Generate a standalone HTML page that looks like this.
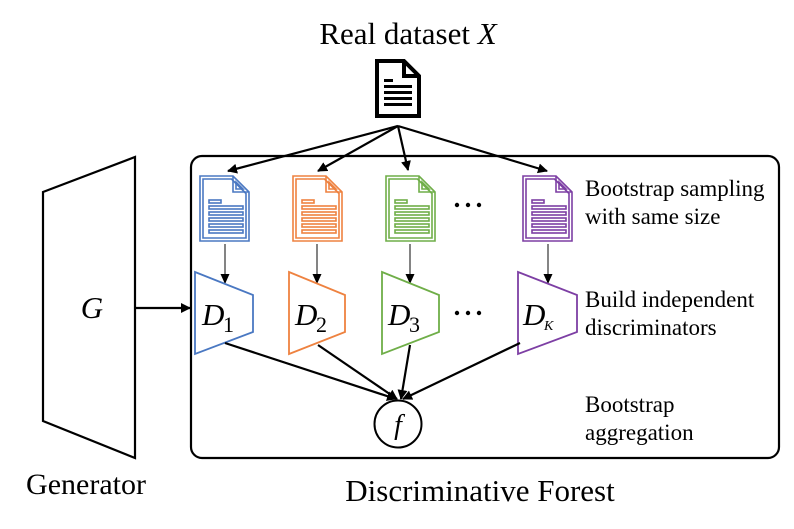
<!DOCTYPE html>
<html><head><meta charset="utf-8"><style>
html,body{margin:0;padding:0;background:#fff;}
svg{display:block;}
text{font-family:"Liberation Serif",serif;fill:#000;}
</style></head><body>
<svg width="794" height="529" viewBox="0 0 794 529" xmlns="http://www.w3.org/2000/svg">
<defs>
<marker id="ah" markerWidth="10" markerHeight="10" refX="9" refY="5" orient="auto" markerUnits="userSpaceOnUse">
<path d="M0,0 L10,5 L0,10 Z" fill="#000"/></marker>
<marker id="ahs" markerWidth="10" markerHeight="10" refX="9" refY="5" orient="auto" markerUnits="userSpaceOnUse">
<path d="M0,0.5 L10,5 L0,9.5 Z" fill="#000"/></marker>
<g id="doc" fill="none" stroke-width="1.6">
<path d="M0,0 H33 L49,16 V65 H0 Z"/>
<path d="M3,3 H31.5 L46,17.5 V62 H3 Z"/>
<path d="M33,0 V16 H49"/>
<path d="M36,6 V13 H43 Z"/>
<rect x="9" y="24" width="12" height="3"/>
<rect x="9" y="30" width="34" height="3"/>
<rect x="9" y="36" width="34" height="3"/>
<rect x="9" y="42" width="34" height="3"/>
<rect x="9" y="48" width="34" height="3"/>
<rect x="9" y="54" width="34" height="3"/>
</g>
</defs>

<text x="408" y="44" font-size="31" text-anchor="middle">Real dataset <tspan font-style="italic">X</tspan></text>

<g fill="none" stroke="#000" stroke-width="4">
<path d="M377,61 H404 L419,76 V116 H377 Z"/>
<path d="M404,61 V76 H419"/>
</g>
<g fill="#000">
<rect x="384" y="79" width="9" height="3"/>
<rect x="384" y="85" width="28" height="3"/>
<rect x="384" y="91" width="28" height="3"/>
<rect x="384" y="97" width="28" height="3"/>
<rect x="384" y="103" width="28" height="3"/>
</g>

<rect x="191" y="156" width="588" height="302" rx="11" fill="none" stroke="#000" stroke-width="2.2"/>

<g stroke="#000" stroke-width="2.2">
<line x1="398" y1="126" x2="228" y2="171" marker-end="url(#ah)"/>
<line x1="398" y1="126" x2="318" y2="171" marker-end="url(#ah)"/>
<line x1="398" y1="126" x2="408" y2="170" marker-end="url(#ah)"/>
<line x1="398" y1="126" x2="547" y2="171" marker-end="url(#ah)"/>
</g>

<use href="#doc" x="200" y="176" stroke="#4a78c2"/>
<use href="#doc" x="293" y="176" stroke="#ee8240"/>
<use href="#doc" x="386" y="176" stroke="#6fae48"/>
<use href="#doc" x="523" y="176" stroke="#7d3fa4"/>

<g fill="#000"><circle cx="457" cy="205" r="2.2"/><circle cx="468" cy="205" r="2.2"/><circle cx="479" cy="205" r="2.2"/>
<circle cx="457" cy="313" r="2.2"/><circle cx="468" cy="313" r="2.2"/><circle cx="479" cy="313" r="2.2"/></g>

<g stroke="#333" stroke-width="1.2">
<line x1="225" y1="244" x2="225" y2="283" marker-end="url(#ahs)"/>
<line x1="317" y1="244" x2="317" y2="283" marker-end="url(#ahs)"/>
<line x1="410" y1="244" x2="410" y2="283" marker-end="url(#ahs)"/>
<line x1="548" y1="244" x2="548" y2="283" marker-end="url(#ahs)"/>
</g>

<g fill="none" stroke-width="1.8">
<path d="M195,272 L253,295 V332 L195,354 Z" stroke="#4a78c2"/>
<path d="M289,272 L345,295 V332 L289,354 Z" stroke="#ee8240"/>
<path d="M382,272 L439,295 V332 L382,354 Z" stroke="#6fae48"/>
<path d="M518,272 L577,295 V332 L518,354 Z" stroke="#7d3fa4"/>
</g>
<text x="202" y="325" font-size="31" font-style="italic">D</text><text x="223" y="332" font-size="22">1</text>
<text x="295" y="325" font-size="31" font-style="italic">D</text><text x="316" y="332" font-size="22">2</text>
<text x="388" y="325" font-size="31" font-style="italic">D</text><text x="409" y="332" font-size="22">3</text>
<text x="523" y="325" font-size="31" font-style="italic">D</text><text x="544" y="330" font-size="14" font-style="italic">K</text>

<g stroke="#000" stroke-width="2.2">
<line x1="225" y1="343" x2="396" y2="399" marker-end="url(#ah)"/>
<line x1="318" y1="345" x2="397" y2="399" marker-end="url(#ah)"/>
<line x1="410" y1="345" x2="401" y2="399" marker-end="url(#ah)"/>
<line x1="520" y1="343" x2="403" y2="399" marker-end="url(#ah)"/>
</g>
<circle cx="398" cy="424" r="23.5" fill="#fff" stroke="#000" stroke-width="2"/>
<text x="398" y="434" font-size="28" font-style="italic" text-anchor="middle">f</text>

<path d="M43,192 L135,157 V458 L43,421 Z" fill="none" stroke="#000" stroke-width="2.2"/>
<text x="92" y="318" font-size="31" font-style="italic" text-anchor="middle">G</text>
<line x1="135" y1="308" x2="190" y2="308" stroke="#000" stroke-width="2.2" marker-end="url(#ah)"/>

<g font-size="23">
<text x="585" y="196">Bootstrap sampling</text>
<text x="585" y="224">with same size</text>
<text x="585" y="307">Build independent</text>
<text x="585" y="335">discriminators</text>
<text x="585" y="412">Bootstrap</text>
<text x="585" y="440">aggregation</text>
</g>
<text x="86" y="494" font-size="30" text-anchor="middle">Generator</text>
<text x="480" y="501" font-size="31" text-anchor="middle">Discriminative Forest</text>
</svg>
</body></html>
